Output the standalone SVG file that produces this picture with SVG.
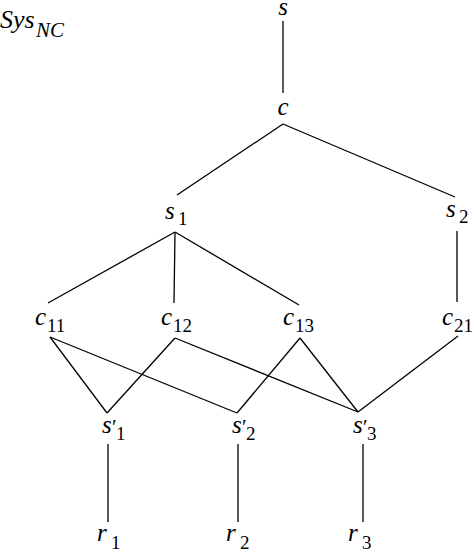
<svg xmlns="http://www.w3.org/2000/svg" width="474" height="552" viewBox="0 0 474 552">
<style>
.m{font-family:"Liberation Serif","Times New Roman",serif;font-style:italic;font-size:25px;fill:#000}
.sub{font-family:"Liberation Serif","Times New Roman",serif;font-style:normal;font-size:19px;fill:#000}
.pr{font-family:"Liberation Serif","Times New Roman",serif;font-style:normal;font-size:21px;fill:#000}
.e line{stroke:#000;stroke-width:1.3;fill:none}
</style>
<rect width="474" height="552" fill="#fff"/>
<g id="title">
<text class="m" x="0" y="28" style="font-size:26px">Sys</text>
<text class="m" x="36" y="37" style="font-size:21px">NC</text>
</g>
<g class="e" id="connectors">
<line x1="283" y1="21" x2="283" y2="93"/>
<line x1="283" y1="124" x2="177" y2="195"/>
<line x1="283" y1="124" x2="455" y2="197"/>
<line x1="175" y1="232" x2="48" y2="303"/>
<line x1="175" y1="232" x2="174" y2="303"/>
<line x1="175" y1="232" x2="299" y2="305"/>
<line x1="457" y1="231" x2="457" y2="302"/>
<line x1="50" y1="337" x2="107" y2="413"/>
<line x1="50" y1="337" x2="237" y2="413"/>
<line x1="175" y1="338" x2="107" y2="413"/>
<line x1="175" y1="338" x2="358" y2="412"/>
<line x1="300" y1="338" x2="237" y2="413"/>
<line x1="300" y1="338" x2="358" y2="412"/>
<line x1="458" y1="336" x2="358" y2="412"/>
<line x1="108" y1="444" x2="108" y2="522"/>
<line x1="238" y1="444" x2="238" y2="522"/>
<line x1="363" y1="444" x2="363" y2="522"/>
</g>
<g id="s"><text class="m" x="283" y="15" text-anchor="middle">s</text></g>
<g id="c"><text class="m" x="283" y="115" text-anchor="middle">c</text></g>
<g id="s1"><text class="m" x="165" y="219">s</text><text class="sub" x="178" y="225">1</text></g>
<g id="s2"><text class="m" x="446" y="217">s</text><text class="sub" x="459" y="223">2</text></g>
<g id="c11"><text class="m" x="35" y="325">c</text><text class="sub" x="47" y="332">11</text></g>
<g id="c12"><text class="m" x="161" y="325">c</text><text class="sub" x="173" y="332">12</text></g>
<g id="c13"><text class="m" x="283" y="325">c</text><text class="sub" x="295" y="332">13</text></g>
<g id="c21"><text class="m" x="442" y="325">c</text><text class="sub" x="454" y="332">21</text></g>
<g id="sp1"><text class="m" x="102" y="433">s</text><text class="pr" x="112" y="434">′</text><text class="sub" x="116" y="440">1</text></g>
<g id="sp2"><text class="m" x="232" y="433">s</text><text class="pr" x="242" y="434">′</text><text class="sub" x="246" y="440">2</text></g>
<g id="sp3"><text class="m" x="353" y="433">s</text><text class="pr" x="363" y="434">′</text><text class="sub" x="367" y="440">3</text></g>
<g id="r1"><text class="m" x="97" y="541">r</text><text class="sub" x="111" y="549">1</text></g>
<g id="r2"><text class="m" x="226" y="541">r</text><text class="sub" x="240" y="549">2</text></g>
<g id="r3"><text class="m" x="348" y="541">r</text><text class="sub" x="362" y="549">3</text></g>
</svg>
